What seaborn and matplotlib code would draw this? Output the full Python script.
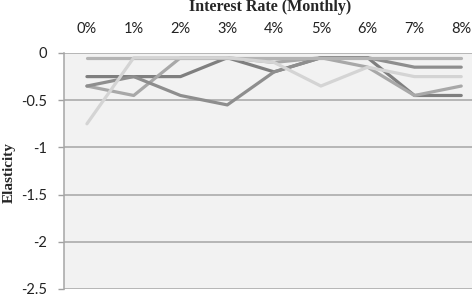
import matplotlib
matplotlib.use("Agg")
import matplotlib.pyplot as plt
import seaborn as sns
import pandas as pd

# Interest rate categories (monthly) and elasticity per series
rates = ["0%", "1%", "2%", "3%", "4%", "5%", "6%", "7%", "8%"]
series_1 = [-0.25, -0.25, -0.25, -0.05, -0.20, -0.05, -0.05, -0.45, -0.45]
series_2 = [-0.35, -0.45, -0.05, -0.05, -0.10, -0.05, -0.15, -0.45, -0.35]
series_3 = [-0.35, -0.25, -0.45, -0.55, -0.20, -0.05, -0.05, -0.15, -0.15]
series_4 = [-0.05, -0.05, -0.05, -0.05, -0.05, -0.05, -0.05, -0.05, -0.05]
series_5 = [-0.75, -0.05, -0.05, -0.05, -0.10, -0.35, -0.15, -0.25, -0.25]

y_ticks = [0, -0.5, -1, -1.5, -2, -2.5]
y_tick_labels = ["0", "-0.5", "-1", "-1.5", "-2", "-2.5"]

names = ["Series 1", "Series 2", "Series 3", "Series 4", "Series 5"]
values = [series_1, series_2, series_3, series_4, series_5]
colors = ["#7f7f7f", "#a8a8a8", "#8e8e8e", "#b4b4b4", "#d4d4d4"]

frames = []
for name, vals in zip(names, values):
    frames.append(pd.DataFrame({"pos": range(len(rates)), "rate": rates,
                                "elasticity": vals, "series": name}))
df = pd.concat(frames, ignore_index=True)

sns.set_style("white")
plt.rcParams["font.family"] = ["Lato", "DejaVu Sans"]

fig = plt.figure(figsize=(4.74, 2.96), dpi=100)
ax = fig.add_axes([64 / 474, 1 - 289 / 296, (472 - 64) / 474, (289 - 53) / 296])
ax.set_facecolor("#f2f2f2")

sns.lineplot(data=df, x="pos", y="elasticity", hue="series",
             palette=dict(zip(names, colors)), linewidth=2.3,
             legend=False, ax=ax, sort=False)

ax.set_xlim(-0.49, 8.23)
ax.set_ylim(-2.5, 0)
ax.set_yticks(y_ticks)
ax.set_yticklabels(y_tick_labels, fontsize=10.5, color="#222222")
ax.set_xticks(range(len(rates)))
ax.set_xticklabels(rates, fontsize=10.5, color="#222222")
ax.xaxis.tick_top()
ax.tick_params(axis="x", length=0, pad=12)
ax.tick_params(axis="y", length=4, width=1, color="#a0a0a0", pad=8, left=True)

ax.grid(axis="y", color="#a6a6a6", linewidth=1.1)
ax.set_axisbelow(True)
for side in ["top", "right", "bottom"]:
    ax.spines[side].set_visible(False)
ax.spines["left"].set_color("#a6a6a6")
ax.spines["left"].set_linewidth(1.1)

ax.set_xlabel("")
ax.set_ylabel("")
fig.text(270 / 474, 1 - 7 / 296, "Interest Rate (Monthly)", ha="center", va="center",
         fontsize=11.5, fontweight="bold", family="Liberation Serif")
fig.text(9 / 474, 1 - 173 / 296, "Elasticity", ha="center", va="center", rotation=90,
         fontsize=11, fontweight="bold", family="Liberation Serif")

fig.savefig("out.png", dpi=100)
